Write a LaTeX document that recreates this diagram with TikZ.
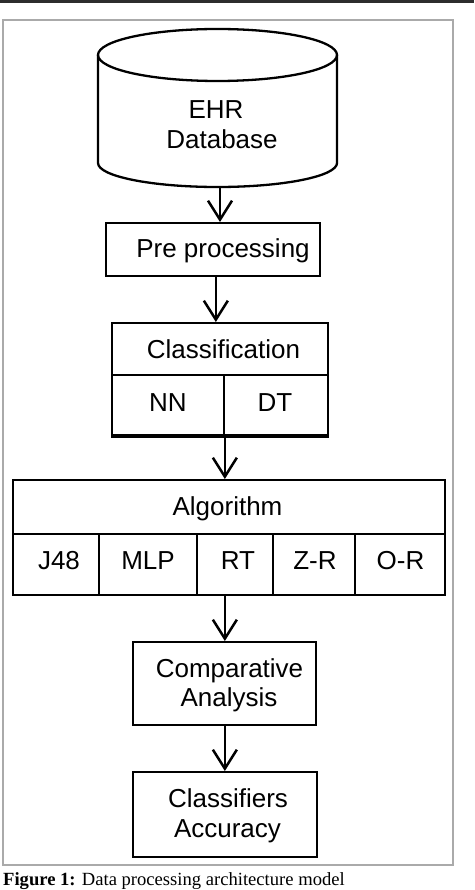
\documentclass[tikz,border=0pt]{standalone}
\usepackage{fontspec}
\setmainfont{Liberation Sans}
\newfontfamily\capfont{Liberation Serif}
\usetikzlibrary{arrows.meta}
\definecolor{framegray}{RGB}{170,170,170}
\definecolor{topbar}{RGB}{45,45,45}
\tikzset{
  box/.style={draw, line width=1.7pt, inner sep=0pt, anchor=north west},
  lbl/.style={font=\fontsize{26}{30}\selectfont, inner sep=0pt, anchor=base},
  arr/.style={line width=2.7pt, -{Straight Barb[length=19pt,width=24pt,line width=2.5pt]}},
  divider/.style={line width=1.7pt}
}
\begin{document}
\begin{tikzpicture}[x=1pt,y=1pt]
\useasboundingbox (0,0) rectangle (474,-890);
% top bar and frame
\fill[topbar] (0,0) rectangle (474,-3.5);
\draw[framegray, line width=2pt] (3,-20) rectangle (452.5,-865);
% cylinder
\draw[line width=2.3pt] (217.5,-55) ellipse[x radius=119.5, y radius=26];
\draw[line width=2.3pt] (98,-55) -- (98,-163) arc[start angle=180, end angle=360, x radius=119.5, y radius=24] -- (337,-55);
\coordinate (db) at (220,-187);
\node[lbl] (ehr) at (216,-119) {EHR};
\node[lbl] (dbase) at (222,-149) {Database};
% pre processing
\node[box, minimum width=214pt, minimum height=53pt] (pre) at (105,-222) {};
\node[lbl] (pretxt) at (223,-258) {Pre processing};
% classification
\node[box, minimum width=216pt, minimum height=114pt] (cls) at (111,-322) {};
\draw[divider] (111,-375) -- (327,-375);
\draw[divider] (224,-375) -- (224,-436);
\draw[line width=3pt] (111,-435) -- (327,-435);
\node[lbl] (clstxt) at (223.5,-358) {Classification};
\node[lbl] (nn) at (168,-411) {NN};
\node[lbl] (dt) at (275,-411) {DT};
% algorithm
\node[box, minimum width=432pt, minimum height=115pt] (alg) at (12,-479) {};
\draw[divider] (12,-534) -- (444,-534);
\draw[line width=2.6pt] (13,-534) -- (13,-594);
\foreach \xx in {99,197,273,355} {\draw[divider] (\xx,-534) -- (\xx,-594);}
\node[lbl] (algtxt) at (227.5,-515) {Algorithm};
\node[lbl] (j48) at (59,-569) {J48};
\node[lbl] (mlp) at (148,-569) {MLP};
\node[lbl] (rt) at (238,-569) {RT};
\node[lbl] (zr) at (315,-569) {Z-R};
\node[lbl] (or) at (400.5,-569) {O-R};
% comparative analysis
\node[box, minimum width=183pt, minimum height=83pt] (comp) at (132,-641) {};
\node[lbl] (comptxt) at (229.5,-677) {Comparative};
\node[lbl] (anatxt) at (229,-706) {Analysis};
% classifiers accuracy
\node[box, minimum width=184pt, minimum height=85pt] (acc) at (132,-771) {};
\node[lbl] (acctxt) at (228,-807) {Classifiers};
\node[lbl] (acctxt2) at (227.5,-837) {Accuracy};
% arrows
\draw[arr] (db) -- (db |- pre.north);
\draw[arr] ([xshift=3pt]pre.south) -- ([xshift=3pt]pre.south |- cls.north);
\draw[arr] ([xshift=5pt]cls.south) -- ([xshift=5pt]cls.south |- alg.north);
\draw[arr] ([xshift=0.5pt]comp.north |- alg.south) -- ([xshift=0.5pt]comp.north);
\draw[arr] ([xshift=0.5pt]comp.south) -- ([xshift=0.5pt]comp.south |- acc.north);
% caption
\node[inner sep=0pt, anchor=base west, font=\capfont\fontsize{18.6}{22}\selectfont] (cap) at (3,-885.5) {\textbf{Figure 1:} Data processing architecture model};
\end{tikzpicture}
\end{document}
